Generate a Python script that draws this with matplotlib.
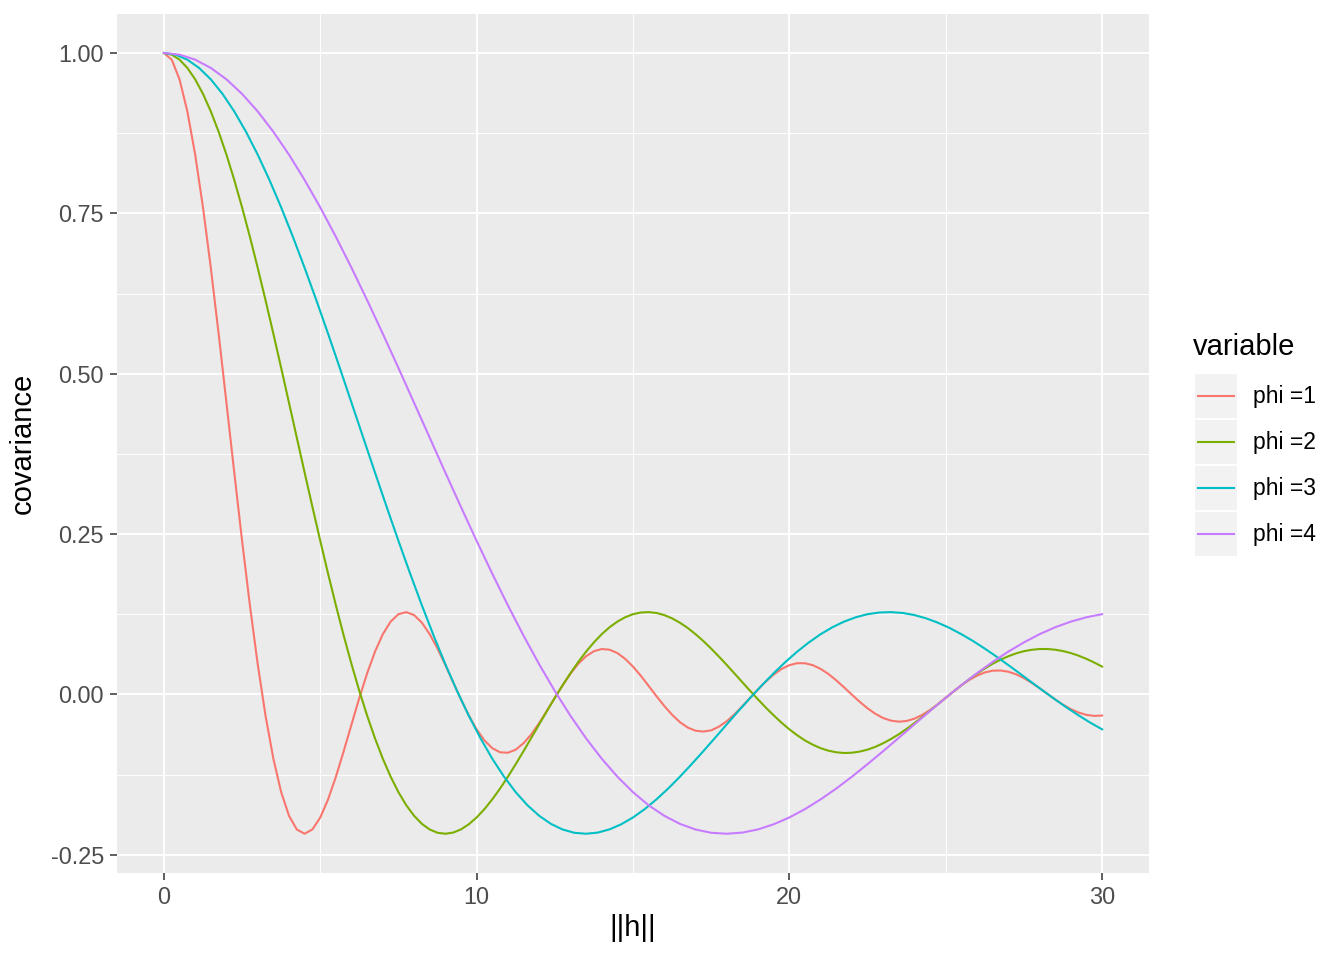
import numpy as np
import matplotlib
matplotlib.use("Agg")
import matplotlib.pyplot as plt
from matplotlib.patches import Rectangle
from matplotlib.lines import Line2D

plt.rcParams['font.family'] = ['Liberation Sans', 'DejaVu Sans']

# covariance values, each series evenly spaced over ||h|| = 0..30
cov_phi1 = [
    1.0, 0.9896, 0.9589, 0.9089, 0.8415, 0.7592, 0.6650, 0.5623, 0.4546, 0.3458,
    0.2394, 0.1388, 0.0470, -0.0333, -0.1002, -0.1524, -0.1892, -0.2106, -0.2172, -0.2104,
    -0.1918, -0.1636, -0.1283, -0.0884, -0.0466, -0.0053, 0.0331, 0.0667, 0.0939, 0.1135,
    0.1251, 0.1283, 0.1237, 0.1118, 0.0939, 0.0714, 0.0458, 0.0188, -0.0079, -0.0327,
    -0.0544, -0.0718, -0.0838, -0.0902, -0.0909, -0.0861, -0.0761, -0.0621, -0.0447, -0.0253,
    -0.0053, 0.0143, 0.0323, 0.0478, 0.0595, 0.0674, 0.0708, 0.0697, 0.0645, 0.0554,
    0.0434, 0.0291, 0.0133, -0.0027, -0.0180, -0.0317, -0.0432, -0.0516, -0.0566, -0.0579,
    -0.0560, -0.0502, -0.0417, -0.0307, -0.0183, -0.0051, 0.0079, 0.0202, 0.0310, 0.0397,
    0.0456, 0.0487, 0.0486, 0.0456, 0.0398, 0.0318, 0.0219, 0.0110, -0.0004, -0.0115,
    -0.0217, -0.0302, -0.0368, -0.0409, -0.0425, -0.0414, -0.0377, -0.0319, -0.0242, -0.0152,
    -0.0053, 0.0046, 0.0141, 0.0225, 0.0293, 0.0343, 0.0370, 0.0373, 0.0354, 0.0314,
    0.0254, 0.0180, 0.0097, 0.0009, -0.0078, -0.0159, -0.0229, -0.0283, -0.0319, -0.0335,
    -0.0329,
]
cov_phi2 = [
    1.0, 0.9974, 0.9896, 0.9767, 0.9589, 0.9362, 0.9089, 0.8772,
    0.8415, 0.8020, 0.7592, 0.7134, 0.6650, 0.6145, 0.5623, 0.5089,
    0.4546, 0.4002, 0.3458, 0.2921, 0.2394, 0.1882, 0.1388, 0.0916,
    0.0470, 0.0053, -0.0333, -0.0685, -0.1002, -0.1282, -0.1524, -0.1728,
    -0.1892, -0.2018, -0.2106, -0.2157, -0.2172, -0.2154, -0.2104, -0.2024,
    -0.1918, -0.1788, -0.1636, -0.1467, -0.1283, -0.1087, -0.0884, -0.0676,
    -0.0466, -0.0257, -0.0053, 0.0144, 0.0331, 0.0506, 0.0667, 0.0811,
    0.0939, 0.1047, 0.1135, 0.1203, 0.1251, 0.1277, 0.1283, 0.1270,
    0.1237, 0.1186, 0.1118, 0.1036, 0.0939, 0.0832, 0.0714, 0.0589,
    0.0458, 0.0324, 0.0188, 0.0053, -0.0079, -0.0207, -0.0327, -0.0441,
    -0.0544, -0.0636, -0.0718, -0.0784, -0.0838, -0.0877, -0.0902, -0.0913,
    -0.0909, -0.0891, -0.0861, -0.0817, -0.0761, -0.0695, -0.0621, -0.0537,
    -0.0447, -0.0352, -0.0253, -0.0154, -0.0053, 0.0046, 0.0143, 0.0236,
    0.0323, 0.0404, 0.0478, 0.0541, 0.0595, 0.0640, 0.0674, 0.0696,
    0.0708, 0.0708, 0.0697, 0.0676, 0.0645, 0.0604, 0.0554, 0.0497,
    0.0434,
]
cov_phi3 = [
    1.0, 0.9974, 0.9896, 0.9767, 0.9589, 0.9362, 0.9089, 0.8772,
    0.8415, 0.8020, 0.7592, 0.7134, 0.6650, 0.6145, 0.5623, 0.5089,
    0.4546, 0.4002, 0.3458, 0.2921, 0.2394, 0.1882, 0.1388, 0.0916,
    0.0470, 0.0053, -0.0333, -0.0685, -0.1002, -0.1282, -0.1524, -0.1728,
    -0.1892, -0.2018, -0.2106, -0.2157, -0.2172, -0.2154, -0.2104, -0.2024,
    -0.1918, -0.1788, -0.1636, -0.1467, -0.1283, -0.1087, -0.0884, -0.0676,
    -0.0466, -0.0257, -0.0053, 0.0144, 0.0331, 0.0506, 0.0667, 0.0811,
    0.0939, 0.1047, 0.1135, 0.1203, 0.1251, 0.1277, 0.1283, 0.1270,
    0.1237, 0.1186, 0.1118, 0.1036, 0.0939, 0.0832, 0.0714, 0.0589,
    0.0458, 0.0324, 0.0188, 0.0053, -0.0079, -0.0207, -0.0327, -0.0441,
    -0.0544,
]
cov_phi4 = [
    1.0, 0.9974, 0.9896, 0.9767, 0.9589, 0.9362, 0.9089, 0.8772,
    0.8415, 0.8020, 0.7592, 0.7134, 0.6650, 0.6145, 0.5623, 0.5089,
    0.4546, 0.4002, 0.3458, 0.2921, 0.2394, 0.1882, 0.1388, 0.0916,
    0.0470, 0.0053, -0.0333, -0.0685, -0.1002, -0.1282, -0.1524, -0.1728,
    -0.1892, -0.2018, -0.2106, -0.2157, -0.2172, -0.2154, -0.2104, -0.2024,
    -0.1918, -0.1788, -0.1636, -0.1467, -0.1283, -0.1087, -0.0884, -0.0676,
    -0.0466, -0.0257, -0.0053, 0.0144, 0.0331, 0.0506, 0.0667, 0.0811,
    0.0939, 0.1047, 0.1135, 0.1203, 0.1251,
]
labels = ['phi =1', 'phi =2', 'phi =3', 'phi =4']
colors = ['#F8766D', '#7CAE00', '#00BFC4', '#C77CFF']
series = [cov_phi1, cov_phi2, cov_phi3, cov_phi4]

x_ticks = [0, 10, 20, 30]
y_ticks = [-0.25, 0.0, 0.25, 0.5, 0.75, 1.0]
y_ticklabels = ['-0.25', '0.00', '0.25', '0.50', '0.75', '1.00']

W, H = 1344, 960
fig = plt.figure(figsize=(W / 100, H / 100), dpi=100)
ax = fig.add_axes([117 / W, 1 - 873 / H, (1149 - 117) / W, (873 - 14) / H])
ax.set_facecolor('#EBEBEB')

for ys, c in zip(series, colors):
    hs = np.linspace(0, 30, len(ys))
    ax.plot(hs, ys, color=c, lw=1.5, zorder=3)

ax.set_xlim(-1.5, 31.5)
ax.set_ylim(-0.2784, 1.0608)
ax.set_xticks(x_ticks)
ax.set_xticklabels([str(t) for t in x_ticks])
ax.set_yticks(y_ticks)
ax.set_yticklabels(y_ticklabels)
ax.set_xticks([5, 15, 25], minor=True)
ax.set_yticks([-0.125, 0.125, 0.375, 0.625, 0.875], minor=True)
ax.grid(which='major', color='white', lw=1.4, zorder=1)
ax.grid(which='minor', color='white', lw=0.7, zorder=1)
ax.set_axisbelow(True)
for s in ax.spines.values():
    s.set_visible(False)
ax.tick_params(which='major', length=5.3, width=1.1, color='#333333',
               labelsize=16.9, labelcolor='#4D4D4D', pad=4)
ax.tick_params(which='minor', length=0)

ax.set_xlabel('||h||', fontsize=21, color='black', labelpad=4)
ax.set_ylabel('covariance', fontsize=21, color='black', labelpad=10)

# legend
fig.text(1193 / W, 1 - 347 / H, 'variable', fontsize=21, va='center', ha='left')
key_top = 374
for i, (lab, c) in enumerate(zip(labels, colors)):
    top = key_top + i * 46
    fig.patches.append(Rectangle((1195 / W, 1 - (top + 44) / H), 42 / W, 44 / H,
                                 transform=fig.transFigure, facecolor='#F2F2F2',
                                 edgecolor='none'))
    yc = 1 - (top + 22) / H
    fig.lines.append(Line2D([1198 / W, 1234 / W], [yc, yc], transform=fig.transFigure,
                            color=c, lw=1.5))
    fig.text(1253 / W, yc, lab, fontsize=16.5, va='center', ha='left')

fig.savefig('out.png', dpi=100)
